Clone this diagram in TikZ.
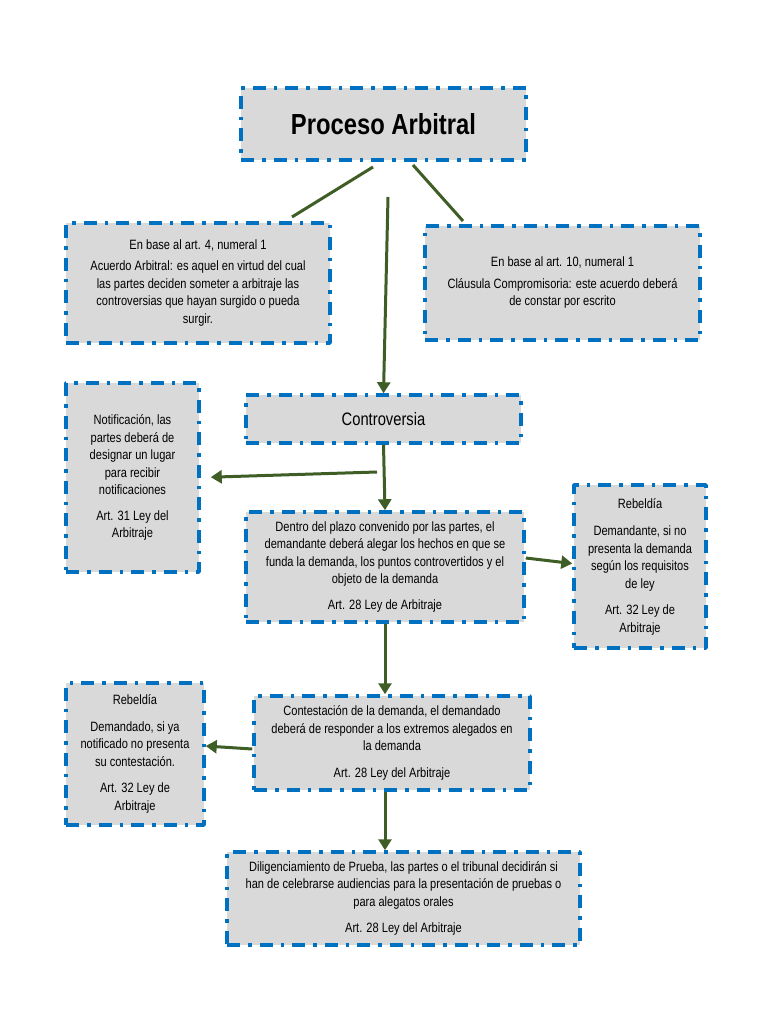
\documentclass[tikz,border=0pt]{standalone}
\usepackage{fontspec}
\setmainfont{Liberation Sans}[FakeStretch=0.82]
\usetikzlibrary{arrows.meta}
\definecolor{gris}{RGB}{217,217,217}
\definecolor{azul}{RGB}{0,112,192}
\definecolor{verde}{RGB}{62,94,38}
\begin{document}
\begin{tikzpicture}[x=1pt, y=-1pt, line join=round,
		caja/.style={draw=azul, fill=gris, line width=3.5pt, dash pattern=on 13pt off 8pt on 3.5pt off 8pt, align=center, inner sep=0pt, font=\fontsize{13.5}{17.5}\selectfont},
		linea/.style={draw=verde, line width=3pt},
		flec/.style={linea, -{Triangle[length=11pt,width=13pt]}}]
	\useasboundingbox (0,0) rectangle (768,1024);
	% cajas
	\node[caja, minimum width=285pt, minimum height=72pt, font=\fontsize{29}{34}\bfseries] (titulo) at (383.5,124) {Proceso Arbitral};
	\node[caja, minimum width=264pt, minimum height=120pt] (base4) at (198,283) {En base al art. 4, numeral 1\\[4pt] Acuerdo Arbitral: es aquel en virtud del cual\\ las partes deciden someter a arbitraje las\\ controversias que hayan surgido o pueda\\ surgir.};
	\node[caja, minimum width=275pt, minimum height=114pt] (base10) at (562.5,283) {En base al art. 10, numeral 1\\[4pt] Cláusula Compromisoria: este acuerdo deberá\\ de constar por escrito};
	\node[caja, minimum width=275pt, minimum height=48pt, font=\fontsize{18}{22}\selectfont] (contro) at (383.5,419) {Controversia};
	\node[caja, minimum width=133pt, minimum height=189pt] (notif) at (132.5,477.5) {Notificación, las\\ partes deberá de\\ designar un lugar\\ para recibir\\ notificaciones\\[8pt] Art. 31 Ley del\\ Arbitraje};
	\node[caja, minimum width=278pt, minimum height=110pt] (plazo) at (385,567) {Dentro del plazo convenido por las partes, el\\ demandante deberá alegar los hechos en que se\\ funda la demanda, los puntos controvertidos y el\\ objeto de la demanda\\[8pt] Art. 28 Ley de Arbitraje};
	\node[caja, minimum width=132pt, minimum height=163pt] (rebR) at (640,566.5) {Rebeldía\\[10pt] Demandante, si no\\ presenta la demanda\\ según los requisitos\\ de ley\\[9pt] Art. 32 Ley de\\ Arbitraje};
	\node[caja, minimum width=276pt, minimum height=94pt] (contest) at (392,743) {Contestación de la demanda, el demandado\\ deberá de responder a los extremos alegados en\\ la demanda\\[9pt] Art. 28 Ley del Arbitraje};
	\node[caja, minimum width=138pt, minimum height=142pt] (rebL) at (135,754) {Rebeldía\\[9pt] Demandado, si ya\\ notificado no presenta\\ su contestación.\\[9pt] Art. 32 Ley de\\ Arbitraje};
	\node[caja, minimum width=353pt, minimum height=93pt] (dilig) at (403.5,898.5) {Diligenciamiento de Prueba, las partes o el tribunal decidirán si\\ han de celebrarse audiencias para la presentación de pruebas o\\ para alegatos orales\\[9pt] Art. 28 Ley del Arbitraje};
	% puntos sueltos
	\coordinate (t1) at (373,167);
	\coordinate (t2) at (292,217);
	\coordinate (t3) at (413,165);
	\coordinate (t4) at (463,221);
	\coordinate (vc) at (388,197);
	\coordinate (rama) at (377,472);
	% conectores
	\draw[linea] (t1)--(t2);
	\draw[linea] (t3)--(t4);
	\draw[flec] (vc)--(contro.north);
	\draw[flec] (contro.south)--(plazo.north);
	\draw[flec, shorten >=10pt] (rama)--(notif.east);
	\draw[flec] ([yshift=9pt]plazo.east)--([yshift=3pt]rebR.west);
	\draw[flec] (plazo.south)--(plazo.south |- contest.north);
	\draw[flec] ([yshift=-6pt]contest.west)--([yshift=8pt]rebL.east);
	\draw[flec] (contest.south -| plazo.south)--(dilig.north -| plazo.south);
\end{tikzpicture}
\end{document}
